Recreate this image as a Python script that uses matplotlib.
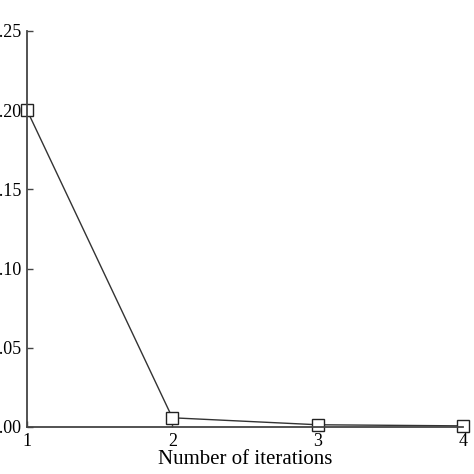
import numpy as np
import matplotlib.pyplot as plt

# data
iterations = [1, 2, 3, 4]
values = [0.200, 0.0058, 0.0014, 0.0007]
yticks = [0.00, 0.05, 0.10, 0.15, 0.20, 0.25]

plt.rcParams['font.family'] = ['Liberation Serif', 'DejaVu Serif']

fig = plt.figure(figsize=(4.74, 4.74), dpi=100)
ax = fig.add_axes([0.057, 0.0992, 0.92, 0.8354])

ax.plot(iterations, values, color='#333333', linewidth=1.0,
        marker='s', markersize=8.5, markerfacecolor='white',
        markeredgecolor='#222222', markeredgewidth=1.0, clip_on=False)

ax.set_xlim(1, 4)
ax.set_ylim(0, 0.25)
ax.set_xticks(iterations)
ax.set_yticks(yticks)
ax.set_yticklabels(['%.2f' % v for v in yticks])

ax.spines['top'].set_visible(False)
ax.spines['right'].set_visible(False)
for side in ['left', 'bottom']:
    ax.spines[side].set_color('#444444')
    ax.spines[side].set_linewidth(1.3)

ax.tick_params(axis='both', direction='in', length=4.5, width=1.0,
               color='#444444', labelsize=13)
ax.tick_params(axis='y', pad=4)
ax.tick_params(axis='x', pad=4)

ax.set_xlabel('Number of iterations', fontsize=15, labelpad=0)

fig.savefig('out.png', dpi=100)
